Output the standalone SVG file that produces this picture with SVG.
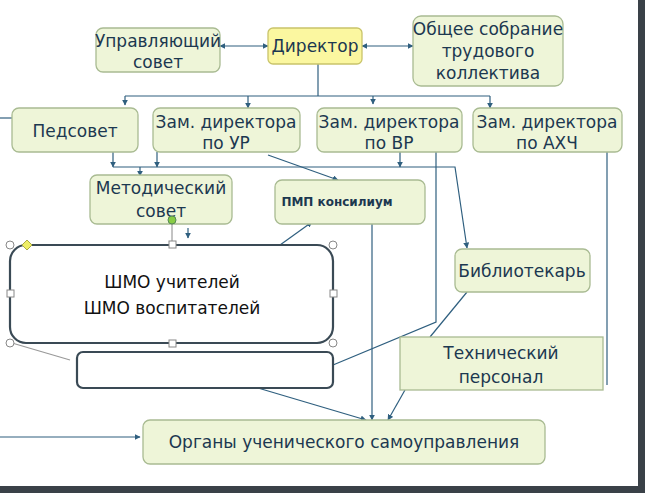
<svg xmlns="http://www.w3.org/2000/svg" width="645" height="493" viewBox="0 0 645 493">
<defs>
<marker id="a" viewBox="0 0 10 10" refX="9" refY="5" markerWidth="5" markerHeight="5" orient="auto-start-reverse"><path d="M0,0L10,5L0,10z" fill="#2f5f7f"/></marker>
<style>
.n{fill:#eef5d8;stroke:#a9bb92;stroke-width:1.3}
.w{fill:#fff;stroke:#3a4a55;stroke-width:2.2}
.t{font-family:"DejaVu Sans",sans-serif;font-size:17px;fill:#1c3850;text-anchor:middle}
.k{fill:#111}
.c line,.c polyline{stroke:#2f5f7f;stroke-width:1.2;fill:none}
.h{fill:#fff;stroke:#888;stroke-width:1}
</style>
</defs>
<rect width="645" height="493" fill="#fff"/>
<rect x="638" y="0" width="7" height="493" fill="#3a4148"/>
<rect x="0" y="486" width="645" height="7" fill="#3a4148"/>
<g class="c">
<line x1="220" y1="46" x2="268" y2="46" marker-start="url(#a)" marker-end="url(#a)"/>
<line x1="362" y1="46" x2="413" y2="46" marker-start="url(#a)" marker-end="url(#a)"/>
<line x1="318" y1="64" x2="318" y2="96"/>
<line x1="125" y1="96" x2="490" y2="96"/>
<line x1="125" y1="96" x2="125" y2="105" marker-end="url(#a)"/>
<line x1="248" y1="96" x2="248" y2="108" marker-end="url(#a)"/>
<line x1="373" y1="96" x2="373" y2="104" marker-end="url(#a)"/>
<line x1="490" y1="96" x2="490" y2="108" marker-end="url(#a)"/>
<line x1="0" y1="118" x2="12" y2="118"/>
<line x1="113" y1="152" x2="113" y2="167" marker-end="url(#a)"/>
<line x1="157" y1="152" x2="157" y2="167" marker-end="url(#a)"/>
<line x1="400" y1="152" x2="400" y2="167" marker-end="url(#a)"/>
<polyline points="113,167 455,167 467,248" marker-end="url(#a)"/>
<line x1="140" y1="167" x2="140" y2="176" marker-end="url(#a)"/>
<line x1="268" y1="155" x2="338" y2="180" marker-end="url(#a)"/>
<line x1="188" y1="228" x2="188" y2="238" marker-end="url(#a)"/>
<line x1="280" y1="245" x2="312" y2="222" marker-end="url(#a)"/>
<line x1="372" y1="224" x2="372" y2="420" marker-end="url(#a)"/>
<polyline points="436,152 436,322 333,365"/>
<line x1="258" y1="388" x2="366" y2="420" marker-end="url(#a)"/>
<line x1="405" y1="390" x2="388" y2="420" marker-end="url(#a)"/>
<line x1="467" y1="292" x2="430" y2="337"/>
<line x1="607" y1="152" x2="607" y2="385"/>
<line x1="0" y1="437" x2="140" y2="437" marker-end="url(#a)"/>
<line x1="12" y1="343" x2="70" y2="360" style="stroke:#999"/>
</g>
<g id="upr"><rect class="n" x="96" y="28" width="124" height="44" rx="7"/><text class="t" x="158" y="47">Управляющий</text><text class="t" x="158" y="68">совет</text></g>
<g id="dir"><rect x="268" y="28" width="94" height="36" rx="5" fill="#fbf7a0" stroke="#c9c46a" stroke-width="1.3"/><text class="t" x="315" y="52">Директор</text></g>
<g id="obsh"><rect class="n" x="413" y="16" width="150" height="70" rx="8"/><text class="t" x="488" y="35">Общее собрание</text><text class="t" x="488" y="57">трудового</text><text class="t" x="488" y="79">коллектива</text></g>
<g id="ped"><rect class="n" x="12" y="108" width="126" height="44" rx="7"/><text class="t" x="75" y="137">Педсовет</text></g>
<g id="ur"><rect class="n" x="153" y="108" width="147" height="44" rx="7"/><text class="t" x="226" y="128">Зам. директора</text><text class="t" x="226" y="149">по УР</text></g>
<g id="vr"><rect class="n" x="317" y="108" width="145" height="44" rx="7"/><text class="t" x="389" y="128">Зам. директора</text><text class="t" x="389" y="149">по ВР</text></g>
<g id="ahch"><rect class="n" x="473" y="108" width="149" height="44" rx="7"/><text class="t" x="547" y="128">Зам. директора</text><text class="t" x="547" y="149">по АХЧ</text></g>
<g id="met"><rect class="n" x="90" y="175" width="142" height="49" rx="7"/><text class="t" x="161" y="194">Методический</text><text class="t" x="161" y="217">совет</text></g>
<g id="pmp"><rect class="n" x="275" y="180" width="150" height="44" rx="7"/><text class="t" x="337" y="206" style="font-size:12px;font-weight:bold">ПМП консилиум</text></g>
<g id="shmo"><rect class="w" x="10" y="245" width="323" height="98" rx="16"/><text class="t k" x="172" y="288">ШМО учителей</text><text class="t k" x="172" y="314">ШМО воспитателей</text>
<rect class="h" x="169" y="241" width="7" height="7"/><rect class="h" x="169" y="340" width="7" height="7"/><rect class="h" x="7" y="290" width="7" height="7"/><rect class="h" x="330" y="290" width="7" height="7"/>
<circle class="h" cx="10" cy="245" r="4"/><circle class="h" cx="333" cy="245" r="4"/><circle class="h" cx="10" cy="343" r="4"/><circle class="h" cx="333" cy="343" r="4"/>
<line x1="172" y1="222" x2="172" y2="241" stroke="#888"/><circle cx="172" cy="220" r="4" fill="#8c4" stroke="#585"/><path d="M27,240l5,5l-5,5l-5,-5z" fill="#ee6" stroke="#aa4"/></g>
<g id="empty"><rect class="w" x="77" y="352" width="256" height="36" rx="6"/></g>
<g id="bib"><rect class="n" x="455" y="249" width="135" height="43" rx="7"/><text class="t" x="522" y="277">Библиотекарь</text></g>
<g id="tech"><rect class="n" x="400" y="337" width="203" height="53"/><text class="t" x="501" y="359">Технический</text><text class="t" x="501" y="383">персонал</text></g>
<g id="org"><rect class="n" x="143" y="420" width="402" height="44" rx="7"/><text class="t" x="344" y="448">Органы ученического самоуправления</text></g>
</svg>
